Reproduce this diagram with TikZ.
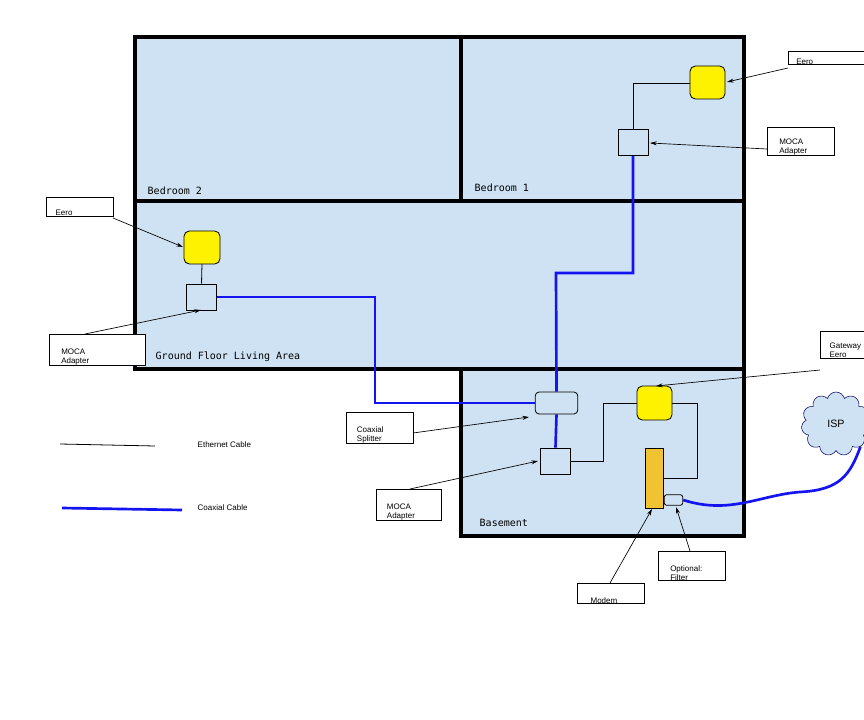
\documentclass[tikz,border=0pt]{standalone}
\usepackage{fontspec}
\setsansfont{Liberation Sans}
\setmonofont{DejaVu Sans Mono}
\usetikzlibrary{shapes.misc,shapes.symbols,arrows.meta}
\definecolor{room}{HTML}{CFE2F3}
\definecolor{coax}{HTML}{1414F0}
\definecolor{modemc}{HTML}{F1C232}
\begin{document}
\begin{tikzpicture}[x=0.75pt,y=-0.75pt,
  wall/.style={line width=3pt,draw=black,fill=room},
  lbl/.style={draw,fill=white,align=left,font=\sffamily\fontsize{6}{7}\selectfont,anchor=north west,inner sep=0pt,text width=#1},
  eero/.style={draw,fill=yellow,rounded corners=4pt,line width=0.6pt},
  moca/.style={draw,fill=room,chamfered rectangle,chamfered rectangle corners={north east,south west},chamfered rectangle xsep=3pt,chamfered rectangle ysep=3pt,minimum width=22.5pt,minimum height=19.5pt,inner sep=0pt,line width=0.6pt},
  eth/.style={line width=0.6pt},
  cx/.style={draw=coax,line width=2pt},
  arr/.style={-{Stealth[length=5pt,width=3pt]},line width=0.5pt},
  room/.style={font=\ttfamily\fontsize{7.5}{8}\selectfont,anchor=base west}]
\useasboundingbox (0,0) rectangle (864,720);
\fill[white] (0,0) rectangle (864,720);
% rooms
\draw[wall] (135,37) rectangle (461,201);
\draw[wall] (461,37) rectangle (744,201);
\draw[wall] (135,201) rectangle (744,369);
\draw[wall] (461,369) rectangle (744,536);
\node[room] (rb2) at (143,195) {Bedroom 2};
\node[room] (rb1) at (470,192) {Bedroom 1};
\node[room] (rgf) at (151,359) {Ground Floor Living Area};
\node[room] (rbs) at (475,526) {Basement};
% devices
\path[eero] (690,99) -- (690,66) -- (725,66) -- (725,99) -- cycle;
\coordinate (e1) at (707.5,82.5);
\node[moca] (m1) at (633,142.5) {};
\path[eero] (184,264) -- (184,231) -- (220,231) -- (220,264) -- cycle;
\coordinate (e2) at (202,247.5);
\node[moca] (m2) at (201.5,297) {};
\path[eero] (637,420) -- (637,386) -- (672,386) -- (672,420) -- cycle;
\coordinate (e3) at (654.5,403);
\node[moca] (m3) at (555.5,461) {};
\node[draw,fill=room,rounded corners=3pt,minimum width=32pt,minimum height=16.5pt,inner sep=0pt,line width=0.6pt] (sp) at (556.5,403) {};
\node[draw,fill=modemc,minimum width=13.5pt,minimum height=45pt,inner sep=0pt,line width=0.6pt] (mod) at (654,478) {};
\node[draw,fill=room,rounded corners=2pt,minimum width=14pt,minimum height=8pt,inner sep=0pt,line width=0.6pt] (flt) at (673.5,500) {};
\node[cloud,draw=coax!40!black,fill=room,cloud puffs=11,aspect=1.3,minimum width=52pt,minimum height=48pt,inner sep=0pt,font=\sffamily\fontsize{8}{9}\selectfont] (isp) at (836,424) {ISP};
% ethernet
\draw[eth] (690,83) -- (633,83) -- (m1.north);
\draw[eth] (202,264) -- (m2.north);
\draw[eth] (m3.east) -- (603,461) -- (603,403) -- (637,403);
\draw[eth] (672,403) -- (697,403) -- (697,478) -- (mod.east |- 0,478);
% coax
\draw[cx] (m1.south) -- (633,273) -- (556,273) -- (sp.north);
\draw[cx] (m2.east) -- (375,297) -- (375,403) -- (sp.west);
\draw[cx] (sp.south) -- (m3.north);
\draw[cx] (flt.east) .. controls (730,515) and (760,495) .. (800,492) .. controls (840,490) and (850,475) .. (isp.south east);
% labels
\node[lbl=66pt] (l1) at (788,51) {\rule{0pt}{10pt}\hspace{6pt}Eero\\[12pt]};
\node[lbl=50pt] (l2) at (767,127) {\rule{0pt}{13pt}\hspace{9pt}MOCA\\\hspace{9pt}Adapter\\[9pt]};
\node[lbl=50pt] (l3) at (46,197) {\rule{0pt}{14pt}\hspace{7pt}Eero\\[13pt]};
\node[lbl=72pt] (l4) at (49,334) {\rule{0pt}{15pt}\hspace{9pt}MOCA\\\hspace{9pt}Adapter\\[9pt]};
\node[lbl=50pt] (l5) at (346,412) {\rule{0pt}{15pt}\hspace{8pt}Coaxial\\\hspace{8pt}Splitter\\[9pt]};
\node[lbl=49pt] (l6) at (376,489) {\rule{0pt}{15pt}\hspace{8pt}MOCA\\\hspace{8pt}Adapter\\[9pt]};
\node[lbl=50pt] (l7) at (820,331) {\rule{0pt}{13pt}\hspace{7pt}Gateway\\\hspace{7pt}Eero\\[6pt]};
\node[lbl=50pt] (l8) at (577,583) {\rule{0pt}{15pt}\hspace{10pt}Modem\\[9pt]};
\node[lbl=50pt] (l9) at (658,551) {\rule{0pt}{15pt}\hspace{9pt}Optional:\\\hspace{9pt}Filter\\[9pt]};
\draw[arr] (788,68) -- (727,82);
\draw[arr] (767,149) -- (650,143);
\draw[arr] (113,218) -- (183,247);
\draw[arr] (85,334) -- (201,310);
\draw[arr] (413,433) -- (529,417);
\draw[arr] (410,489) -- (538,461);
\draw[arr] (820,370) -- (656,386);
\draw[arr] (610,583) -- (652,509);
\draw[arr] (690,551) -- (676,507);
% legend
\coordinate (a1) at (60,444); \coordinate (a2) at (155,446);
\draw[eth] (a1) -- (a2);
\node[font=\sffamily\fontsize{6}{7}\selectfont,anchor=west] (t1) at (193,445) {Ethernet Cable};
\coordinate (b1) at (62,508); \coordinate (b2) at (182,510);
\draw[cx] (b1) -- (b2);
\node[font=\sffamily\fontsize{6}{7}\selectfont,anchor=west] (t2) at (193,508) {Coaxial Cable};
\end{tikzpicture}
\end{document}
